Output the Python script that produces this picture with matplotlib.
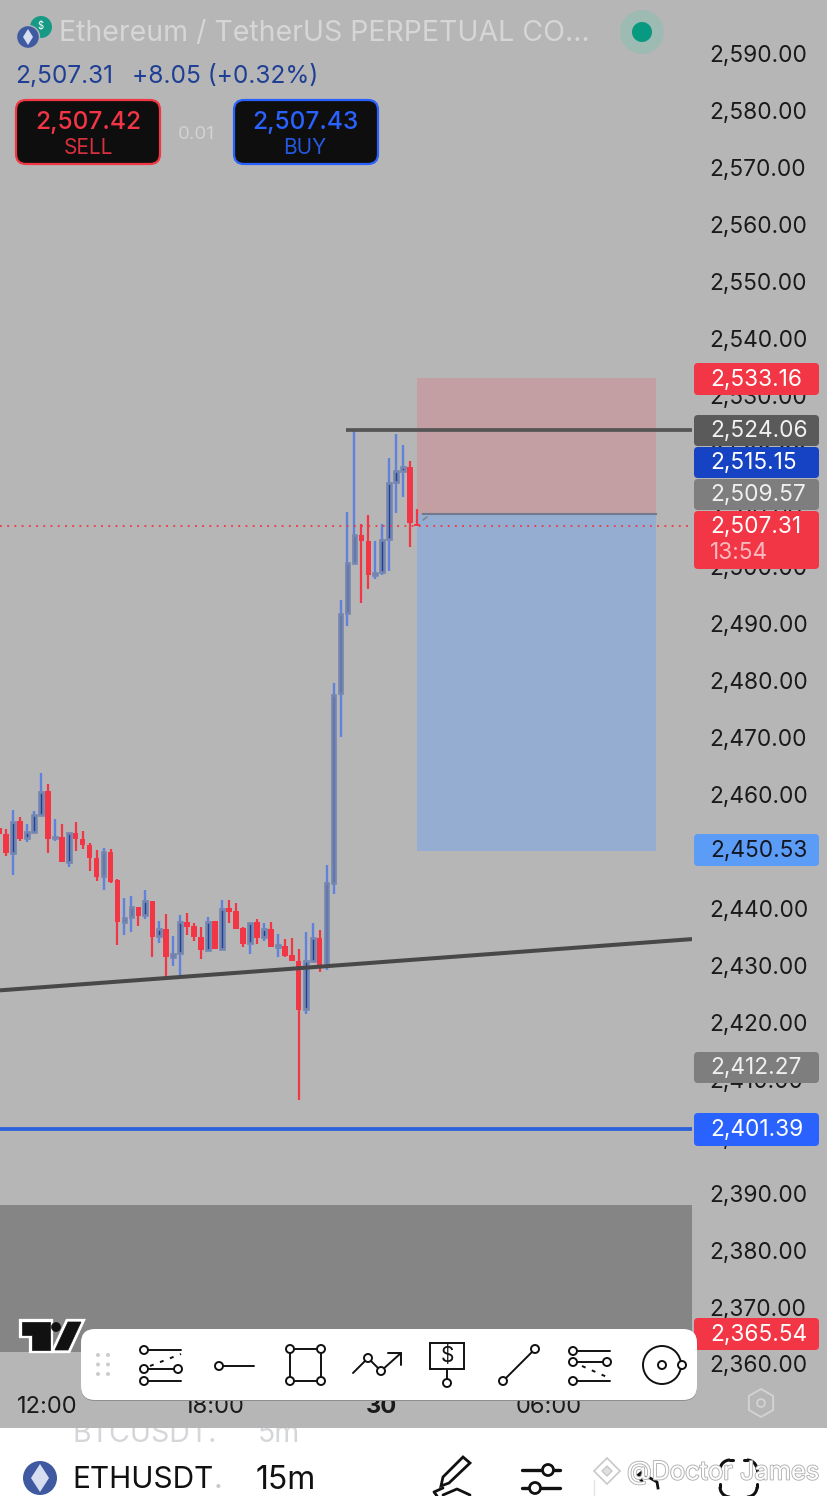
import matplotlib
matplotlib.use('Agg')
import matplotlib.pyplot as plt
import matplotlib.patheffects as pe
from matplotlib.patches import Circle, FancyBboxPatch, Polygon, Rectangle, RegularPolygon, Arc
import numpy as np

plt.rcParams['font.family'] = ['Inter', 'DejaVu Sans']

# candles, 15m ETHUSDT
candle_open = [2454.1, 2453.05, 2449.8, 2455.3, 2452.4, 2453.4, 2456.4, 2460.6, 2452.35, 2452.5,
               2448.1, 2453.3, 2452.1, 2451.2, 2448.8, 2445.7, 2449.95, 2445.0, 2437.6, 2438.5,
               2440.3, 2438.9, 2441.3, 2435.1, 2436.4, 2431.4, 2432.1, 2437.6, 2436.9, 2435.05,
               2432.7, 2437.7, 2432.9, 2440.0, 2439.5, 2436.6, 2433.85, 2437.6, 2434.9, 2436.45,
               2433.25, 2433.4, 2431.75, 2430.8, 2422.3, 2430.8, 2434.85, 2430.05, 2444.5, 2477.85,
               2491.8, 2500.7, 2505.6, 2504.5, 2498.5, 2499.0, 2504.85, 2514.8, 2516.85, 2517.5, 2507.5]
candle_high = [2454.1, 2453.9, 2457.3, 2456.1, 2454.8, 2457.1, 2463.7, 2461.9, 2455.7, 2454.75,
               2453.3, 2455.2, 2453.6, 2451.4, 2450.2, 2450.65, 2450.35, 2445.1, 2441.85, 2442.15,
               2440.3, 2443.2, 2441.3, 2437.8, 2439.0, 2435.1, 2438.8, 2439.2, 2437.35, 2436.8,
               2438.4, 2437.7, 2441.5, 2441.5, 2441.0, 2436.8, 2437.5, 2438.1, 2437.5, 2437.6,
               2435.55, 2434.55, 2434.75, 2432.85, 2435.9, 2437.5, 2436.2, 2447.6, 2479.6, 2494.05,
               2509.5, 2524.2, 2507.45, 2509.05, 2504.55, 2507.4, 2519.0, 2523.2, 2521.35, 2518.5, 2510.2]
candle_low = [2453.05, 2449.2, 2445.85, 2451.8, 2451.7, 2453.4, 2456.4, 2449.8, 2451.8, 2448.1,
              2447.3, 2450.0, 2450.5, 2446.6, 2444.85, 2443.25, 2444.4, 2433.5, 2435.35, 2435.8,
              2436.9, 2438.1, 2431.5, 2434.0, 2427.9, 2429.9, 2428.1, 2435.3, 2434.2, 2431.15,
              2432.7, 2432.8, 2432.9, 2437.4, 2436.45, 2433.25, 2432.0, 2433.8, 2434.25, 2433.25,
              2431.5, 2431.5, 2430.75, 2406.3, 2421.4, 2430.8, 2428.85, 2429.15, 2442.5, 2470.0,
              2489.6, 2500.7, 2493.65, 2496.0, 2497.8, 2498.5, 2499.2, 2509.35, 2512.2, 2503.45, 2507.05]
candle_close = [2453.05, 2449.7, 2455.1, 2452.2, 2453.35, 2456.3, 2460.5, 2452.2, 2452.6, 2448.1,
                2453.3, 2452.1, 2451.1, 2448.8, 2445.55, 2449.9, 2444.7, 2437.55, 2438.3, 2440.2,
                2438.7, 2441.2, 2435.0, 2436.3, 2431.4, 2431.9, 2437.55, 2436.75, 2435.0, 2432.7,
                2437.65, 2432.8, 2439.8, 2439.4, 2436.45, 2433.8, 2437.5, 2434.85, 2436.4, 2433.25,
                2433.5, 2431.65, 2430.75, 2422.2, 2430.7, 2434.8, 2429.85, 2444.4, 2477.5, 2491.6,
                2500.6, 2505.5, 2504.5, 2498.5, 2498.9, 2504.65, 2514.6, 2516.85, 2517.5, 2507.6, 2507.05]

price_ticks = list(range(2360, 2600, 10))
time_ticks = [6.9, 30.9, 54.9, 78.9]
time_labels = ['12:00', '18:00', '30', '06:00']

resistance_x = [49.8, 99.43]
resistance_y = [2523.9, 2523.9]
trend_x = [0.14, 99.43]
trend_y = [2425.6, 2434.6]
support_y = 2401.2
last_price = 2507.05
stop_price = 2533.16
entry_price = 2509.3
target_price = 2450.1
box_x = [59.97, 94.26]

# price tags: label, top px, bottom px, fill, text colour
tags = [('2,533.16', 363, 395, '#f23645', 'white'),
        ('2,524.06', 415, 446, '#5a5a5a', '#f0f0f0'),
        ('2,515.15', 447, 478, '#1643c4', 'white'),
        ('2,509.57', 479, 510, '#7e7e7e', '#f0f0f0'),
        ('2,450.53', 834, 866, '#5b9cf6', '#131722'),
        ('2,412.27', 1052, 1083, '#7e7e7e', '#f0f0f0'),
        ('2,401.39', 1113, 1146, '#2962ff', 'white'),
        ('2,365.54', 1318, 1350, '#f23645', 'white')]

GREY = '#b6b6b6'
RED = '#f23645'
W, H = 828, 1496
PRICE_FS = 16.3

fig = plt.figure(figsize=(W / 100, H / 100), dpi=100, facecolor='white')
fig.add_artist(Rectangle((0, (H - 1428) / H), 1, 1428 / H, transform=fig.transFigure,
                         facecolor=GREY, edgecolor='none', zorder=-1))

# hidden row behind the chart
fig.text(73 / W, 1 - 1442 / H, 'BTCUSDT.', fontsize=20.5, color='#d4d6da', va='baseline', zorder=0.5)
fig.text(258 / W, 1 - 1442 / H, '5m', fontsize=20.5, color='#d4d6da', va='baseline', zorder=0.5)

ax = fig.add_axes([0, (H - 1428) / H, 692 / W, 1428 / H], zorder=1)
ax.set_facecolor(GREY)
ax.set_xlim(0.143, 99.43)
ax.set_ylim(2348.76, 2599.48)
for s in ax.spines.values():
    s.set_visible(False)

ax.yaxis.tick_right()
ax.set_yticks(price_ticks)
ax.set_yticklabels([f'{p:,.2f}' for p in price_ticks], fontsize=PRICE_FS, color='#1a1a1a', ha='left')
ax.tick_params(axis='y', length=0, pad=12.6)
ax.set_xticks(time_ticks)
ax.set_xticklabels(time_labels, fontsize=17, color='#1a1a1a')
ax.tick_params(axis='x', length=0, direction='in', pad=-23)
ax.get_xticklabels()[2].set_fontweight('bold')

# dark band at the bottom of the chart
ax.axhspan(2599.48 - 0.17557 * 1352, 2599.48 - 0.17557 * 1205, color='#858585', lw=0, zorder=0.5)

# position box
ax.add_patch(Rectangle((box_x[0], entry_price), box_x[1] - box_x[0], stop_price - entry_price,
                       facecolor='#c39ea2', edgecolor='none', zorder=1))
ax.add_patch(Rectangle((box_x[0], target_price), box_x[1] - box_x[0], entry_price - target_price,
                       facecolor='#95add0', edgecolor='none', zorder=1))
ax.plot([box_x[0] + 0.8, box_x[1]], [entry_price, entry_price], color='#6f7b8c', lw=1.5, zorder=1.2)

# candles
idx = np.arange(len(candle_open))
o = np.array(candle_open)
h = np.array(candle_high)
l = np.array(candle_low)
c = np.array(candle_close)
up = c >= o
ax.vlines(idx[up], l[up], h[up], color='#5f83dd', lw=1.7, zorder=2)
ax.vlines(idx[~up], l[~up], h[~up], color=RED, lw=1.6, zorder=2)
ax.bar(idx[up], c[up] - o[up], bottom=o[up], width=0.55, facecolor='#1f3f94',
       edgecolor='#7486b0', linewidth=1.9, zorder=2.2)
ax.bar(idx[~up], o[~up] - c[~up], bottom=c[~up], width=0.8, color=RED, linewidth=0, zorder=2.2)

# drawings
ax.plot(resistance_x, resistance_y, color='#555555', lw=2.7, solid_capstyle='butt', zorder=3)
ax.plot(trend_x, trend_y, color='#484848', lw=2.9, solid_capstyle='butt', zorder=3)
ax.axhline(support_y, color='#2b5fdc', lw=2.7, zorder=3)
ax.axhline(last_price, color=RED, lw=1.3, ls=(0, (1, 3)), zorder=3)

# screen overlay in pixel coordinates
ui = fig.add_axes([0, 0, 1, 1], zorder=2)
ui.set_xlim(0, W)
ui.set_ylim(H, 0)
ui.axis('off')
ui.patch.set_alpha(0)


def box(x0, y0, x1, y1, fc, ec='none', lw=0, r=4, z=3):
    ui.add_patch(FancyBboxPatch((x0 + r, y0 + r), x1 - x0 - 2 * r, y1 - y0 - 2 * r,
                                boxstyle=f'round,pad={r},rounding_size={r}',
                                facecolor=fc, edgecolor=ec, linewidth=lw, zorder=z))


def dot(x, y, r=4, fc='white', ec='#111111', lw=1.4, z=5):
    ui.add_patch(Circle((x, y), r, facecolor=fc, edgecolor=ec, linewidth=lw, zorder=z))


def seg(xs, ys, color='#111111', lw=1.4, ls='-', z=4.5):
    ui.plot(xs, ys, color=color, lw=lw, ls=ls, zorder=z, solid_capstyle='round')


# tags
for label, y0, y1, fc, tc in tags:
    box(694, y0, 819, y1, fc)
    ui.text(710, (y0 + y1) / 2 + 0.8, label, color=tc, fontsize=PRICE_FS, va='center', ha='left', zorder=4)
box(694, 511, 819, 569, RED)
ui.text(710, 527, '2,507.31', color='white', fontsize=PRICE_FS, va='center', ha='left', zorder=4)
ui.text(710, 553, '13:54', color='#f9b9be', fontsize=PRICE_FS, va='center', ha='left', zorder=4)

# header
dot(41, 27, 11, fc='#169a85', ec='none', lw=0)
ui.text(41, 26, '$', color='white', fontsize=7, ha='center', va='center', zorder=5.2)
dot(28, 37, 11.5, fc='#3f5aa0', ec='#b6b6b6', lw=1, z=5.5)
ui.add_patch(Polygon([(28, 29), (33, 37), (28, 45), (23, 37)], facecolor='#d7deef', edgecolor='none', zorder=6))
ui.text(59, 33.5, 'Ethereum / TetherUS PERPETUAL CO...', color='#d6d6d6', fontsize=20.5, va='center', zorder=4)
ui.text(15, 76, '2,507.31', color='#1e3f94', fontsize=17.6, va='center', zorder=4)
ui.text(132, 76, '+8.05 (+0.32%)', color='#1e3f94', fontsize=17.6, va='center', zorder=4)
dot(642, 32, 22, fc='#9dbab3', ec='none', lw=0)
dot(642, 32, 10, fc='#089981', ec='none', lw=0, z=5.2)

box(16, 100, 160, 164, '#0e0e0e', ec='#f23645', lw=1.6, r=10)
ui.text(88, 122, '2,507.42', color=RED, fontsize=17.6, fontweight='medium', ha='center', va='center', zorder=4)
ui.text(88, 148, 'SELL', color='#d8303e', fontsize=15, ha='center', va='center', zorder=4)
box(234, 100, 378, 164, '#0e0e0e', ec='#2962ff', lw=1.6, r=10)
ui.text(305, 122, '2,507.43', color='#2962ff', fontsize=17.6, fontweight='medium', ha='center', va='center', zorder=4)
ui.text(305, 148, 'BUY', color='#2459e0', fontsize=15, ha='center', va='center', zorder=4)
ui.text(196, 134, '0.01', color='#d2d2d2', fontsize=13.5, ha='center', va='center', zorder=4)

# logo
logo_fx = [pe.withStroke(linewidth=4.5, foreground='white')]
ui.add_patch(Polygon([(22, 1322), (50, 1322), (50, 1350), (32, 1350), (32, 1335), (22, 1335)],
                     facecolor='#111111', edgecolor='#111111', linewidth=0.5, zorder=4, path_effects=logo_fx))
ui.add_patch(Polygon([(68, 1322), (81, 1322), (68, 1350), (55, 1350)],
                     facecolor='#111111', edgecolor='#111111', linewidth=0.5, zorder=4, path_effects=logo_fx))
ui.add_patch(Circle((56, 1327), 4.5, facecolor='#111111', edgecolor='#111111', linewidth=0.5, zorder=4.1))

# toolbar
box(81, 1329, 697, 1401, '#8f8f8f', r=14, z=4.0)
box(81, 1329, 697, 1400, 'white', r=14, z=4.2)
for gx in (98, 108):
    for gy in (1355, 1364.5, 1374):
        dot(gx, gy, 2, fc='#cccccc', ec='none', lw=0)

seg([148, 181], [1350, 1350])
seg([148, 174], [1369, 1369])
seg([148, 181], [1381, 1381])
seg([150, 181], [1366, 1354], ls=(0, (2, 3.5)))
for cx, cy in [(144, 1350), (144, 1369), (178, 1369), (144, 1381)]:
    dot(cx, cy)
seg([223, 254], [1366, 1366])
dot(219, 1366)
seg([290, 321, 321, 290, 290], [1349, 1349, 1381, 1381, 1349])
for cx, cy in [(290, 1349), (321, 1349), (290, 1381), (321, 1381)]:
    dot(cx, cy)
seg([353, 368, 381, 401], [1373, 1358, 1371, 1353])
seg([388, 401, 401], [1353, 1353, 1365])
dot(368, 1358)
dot(381, 1371)
ui.add_patch(Rectangle((430, 1343), 34, 26, facecolor='white', edgecolor='#111111', linewidth=1.4, zorder=4.5))
ui.text(447, 1356, '$', color='#111111', fontsize=15, ha='center', va='center', zorder=5)
seg([447, 447], [1369, 1379])
dot(447, 1383)
seg([503, 535], [1381, 1349])
dot(503, 1381)
dot(535, 1349)
seg([577, 610], [1351, 1351])
seg([577, 603], [1362, 1362])
seg([577, 610], [1381, 1381])
seg([582, 607], [1366, 1377], ls=(0, (2, 3.5)))
for cx, cy in [(573, 1351), (573, 1362), (607, 1362), (573, 1381)]:
    dot(cx, cy)
dot(662, 1365, 19, fc='white', z=4.6)
dot(662, 1365)
dot(682, 1365)

# settings hexagon
ui.add_patch(RegularPolygon((761, 1403), 6, radius=14, facecolor='none', edgecolor='#d2d2d2', linewidth=1.4, zorder=4))
dot(761, 1403, 4, fc='none', ec='#d2d2d2', lw=1.3, z=4)

# small handle inside the position box
seg([423, 427], [520, 517], color='#7d8794', lw=1.2)

# bottom bar
dot(40, 1478, 17, fc='#3f5aa0', ec='none', lw=0)
ui.add_patch(Polygon([(40, 1464), (49, 1478), (40, 1492), (31, 1478)], facecolor='#d7deef', edgecolor='none', zorder=6))
ui.text(72, 1480.5, 'ETHUSDT', color='#111111', fontsize=21.5, va='center', zorder=4)
ui.text(214, 1480.5, '.', color='#c8c8c8', fontsize=21.5, va='center', zorder=4)
ui.text(256, 1480.5, '15m', color='#111111', fontsize=23, va='center', zorder=4)

# pen
ui.add_patch(Polygon([(463, 1457), (470, 1463), (449, 1483), (441, 1486), (443, 1477)],
                     facecolor='white', edgecolor='#111111', linewidth=2, zorder=4))
seg([443, 434, 437], [1488, 1492, 1496], lw=2)
seg([443, 457, 470], [1495, 1489, 1495], lw=2)
# sliders
seg([522, 560], [1470, 1470], lw=2.4)
seg([522, 560], [1488, 1488], lw=2.4)
dot(548, 1470, 5.5, lw=2)
dot(535, 1488, 5.5, lw=2)
# undo arrow, under the watermark
ui.plot([637, 650, 657, 658], [1476, 1478, 1482, 1488], color='#111111', lw=2, zorder=4)
seg([642, 637, 642], [1472, 1476, 1481], lw=2)
seg([594, 594], [1480, 1496], color='#e4e4e4', lw=1)
# fullscreen corners
ui.add_patch(Arc((730, 1470), 20, 20, theta1=180, theta2=270, color='#111111', lw=2.2, zorder=4))
ui.add_patch(Arc((747, 1470), 20, 20, theta1=270, theta2=360, color='#111111', lw=2.2, zorder=4))
ui.add_patch(Arc((730, 1487), 20, 20, theta1=90, theta2=180, color='#111111', lw=2.2, zorder=4))
ui.add_patch(Arc((747, 1487), 20, 20, theta1=0, theta2=90, color='#111111', lw=2.2, zorder=4))
seg([730, 733], [1460, 1460], lw=2.2)
seg([744, 747], [1460, 1460], lw=2.2)
seg([720, 720], [1470, 1473], lw=2.2)
seg([757, 757], [1470, 1473], lw=2.2)
seg([720, 720], [1484, 1487], lw=2.2)
seg([757, 757], [1484, 1487], lw=2.2)
seg([730, 733], [1497, 1497], lw=2.2)
seg([744, 747], [1497, 1497], lw=2.2)

# watermark
wm_fx = [pe.withStroke(linewidth=1.3, foreground='#b0b0b0')]
ui.add_patch(Polygon([(607, 1458), (620, 1471), (607, 1484), (594, 1471)], facecolor='white',
                     edgecolor='#c8c8c8', linewidth=1.2, zorder=6))
ui.add_patch(Polygon([(607, 1466), (612, 1471), (607, 1476), (602, 1471)], facecolor='#e0e0e0',
                     edgecolor='#c8c8c8', linewidth=1, zorder=6.1))
ui.text(627, 1473, '@Doctor James', color='white', fontsize=18.3, va='center', zorder=7, path_effects=wm_fx)

fig.savefig('out.png', dpi=100)
